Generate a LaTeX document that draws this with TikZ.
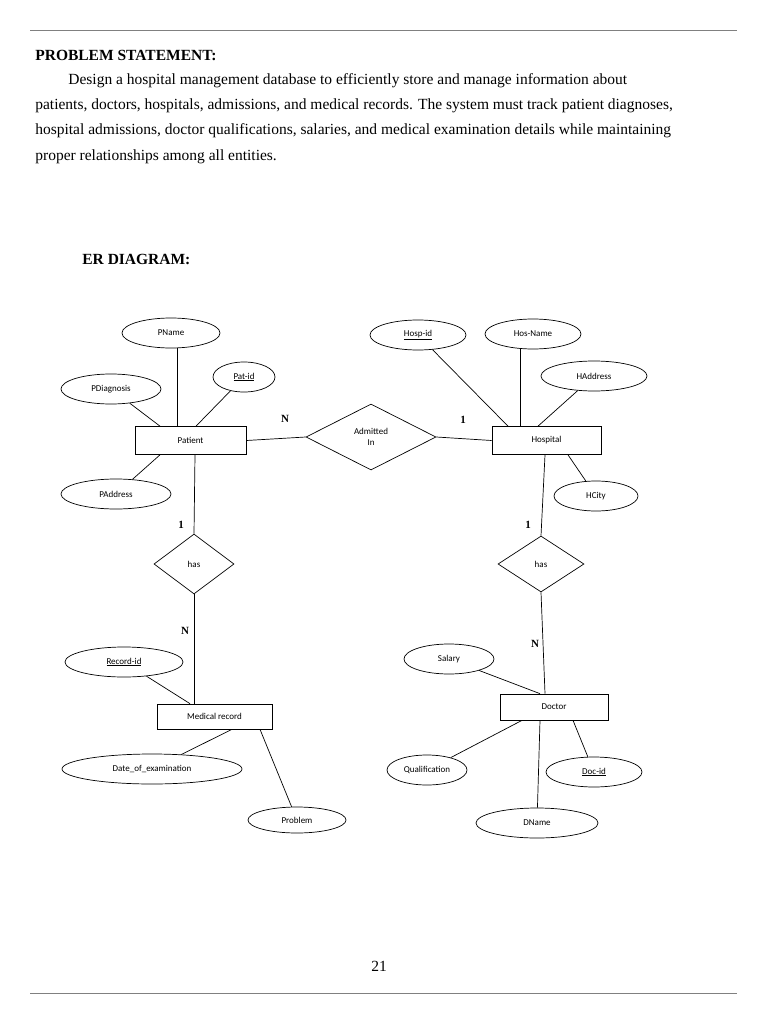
\documentclass[tikz,border=0pt]{standalone}
\usepackage{fontspec}
\setmainfont{Liberation Serif}
\newfontfamily\calfnt{Carlito}
\usetikzlibrary{shapes.geometric}
\begin{document}
\begin{tikzpicture}[x=1pt,y=-1pt,line width=0.7pt,
  ent/.style={draw,rectangle,minimum width=#1,minimum height=28,font=\calfnt\fontsize{9}{10}\selectfont,inner sep=0},
  att/.style={draw,ellipse,minimum width=#1,minimum height=30,font=\calfnt\fontsize{9}{10}\selectfont,inner sep=0},
  rel/.style={draw,diamond,minimum width=#1,font=\calfnt\fontsize{9}{11}\selectfont,inner sep=0,align=center},
  card/.style={font=\bfseries\fontsize{11}{12}\selectfont},
  txt/.style={font=\fontsize{15.5}{17}\selectfont,anchor=base west,inner sep=0}]
\useasboundingbox (0,0) rectangle (768,1024);
\draw[line width=0.8pt,gray] (30,30) -- (737,30);
\draw[line width=0.8pt,gray] (30,993) -- (737,993);
\node[txt,font=\bfseries\fontsize{15.5}{17}\selectfont] (ps) at (35,61) {PROBLEM STATEMENT:};
\node[txt] (l1) at (68,85) {Design a hospital management database to efficiently store and manage information about};
\node[txt,text width=705,align=justify] (l2) at (35,110) {patients, doctors, hospitals, admissions, and medical records. The system must track patient diagnoses,};
\node[txt,text width=705,align=justify] (l3) at (35,135) {hospital admissions, doctor qualifications, salaries, and medical examination details while maintaining};
\node[txt] (l4) at (35,161) {proper relationships among all entities.};
\node[txt,font=\bfseries\fontsize{15.5}{17}\selectfont] (er) at (82,264) {ER DIAGRAM:};
\node[txt] (pg) at (371,971) {21};

\node[ent=111] (pat) at (190.5,440.5) {Patient};
\node[ent=109] (hos) at (546.5,440.5) {Hospital};
\node[ent=115,minimum height=25] (med) at (214.5,716.5) {Medical record};
\node[ent=108,minimum height=26] (doc) at (554,707) {Doctor};

\node[att=98] (pname) at (171,333) {PName};
\node[att=62] (patid) at (244,377) {\underline{Pat-id}};
\node[att=100] (pdiag) at (111,389) {PDiagnosis};
\node[att=110] (padd) at (116,494) {PAddress};
\node[att=96] (hospid) at (418,335) {\underline{Hosp-id}};
\node[att=96] (hosname) at (533,334) {Hos-Name};
\node[att=106] (hadd) at (594,376) {HAddress};
\node[att=84] (hcity) at (596,496) {HCity};
\node[att=118] (recid) at (124,662) {\underline{Record-id}};
\node[att=180] (doe) at (152,769) {Date\_of\_examination};
\node[att=98,minimum height=26] (prob) at (297,820) {Problem};
\node[att=90] (sal) at (449,659) {Salary};
\node[att=80] (qual) at (427,770) {Qualification};
\node[att=96] (docid) at (594,772) {\underline{Doc-id}};
\node[att=122] (dname) at (537,823) {DName};

\node[rel=130,minimum height=66] (adm) at (371,437) {Admitted\\In};
\node[rel=80,minimum height=60] (has1) at (194,564) {has};
\node[rel=86,minimum height=56] (has2) at (541,564) {has};

\draw (pname.south -| 177,0) -- (pat.north -| 177,0);
\draw (patid) -- (pat.north -| 196,0);
\draw (pdiag) -- (pat.north -| 160,0);
\draw (padd) -- (pat.south -| 160,0);
\draw (pat.east) -- (adm.west);
\draw (adm.east) -- (hos.west);
\draw (hospid) -- (hos.north -| 508,0);
\draw (hosname.south -| 520,0) -- (hos.north -| 520,0);
\draw (hadd) -- (hos.north -| 538,0);
\draw (hcity) -- (hos.south -| 568,0);
\draw (pat.south -| 195,0) -- (has1.north);
\draw (has1.south) -- (med.north -| 194,0);
\draw (recid) -- (med.north -| 190,0);
\draw (doe) -- (med.south -| 232,0);
\draw (prob) -- (med.south -| 260,0);
\draw (hos.south -| 545,0) -- (has2.north);
\draw (has2.south) -- (doc.north -| 545,0);
\draw (sal) -- (doc.north -| 540,0);
\draw (qual) -- (doc.south -| 522,0);
\draw (docid) -- (doc.south -| 573,0);
\draw (dname) -- (doc.south -| 540,0);

\node[card] (c1) at (285,419) {N};
\node[card] (c2) at (463,420) {1};
\node[card] (c3) at (181,525) {1};
\node[card] (c4) at (185,631) {N};
\node[card] (c5) at (528,525) {1};
\node[card] (c6) at (535,644) {N};
\end{tikzpicture}
\end{document}
